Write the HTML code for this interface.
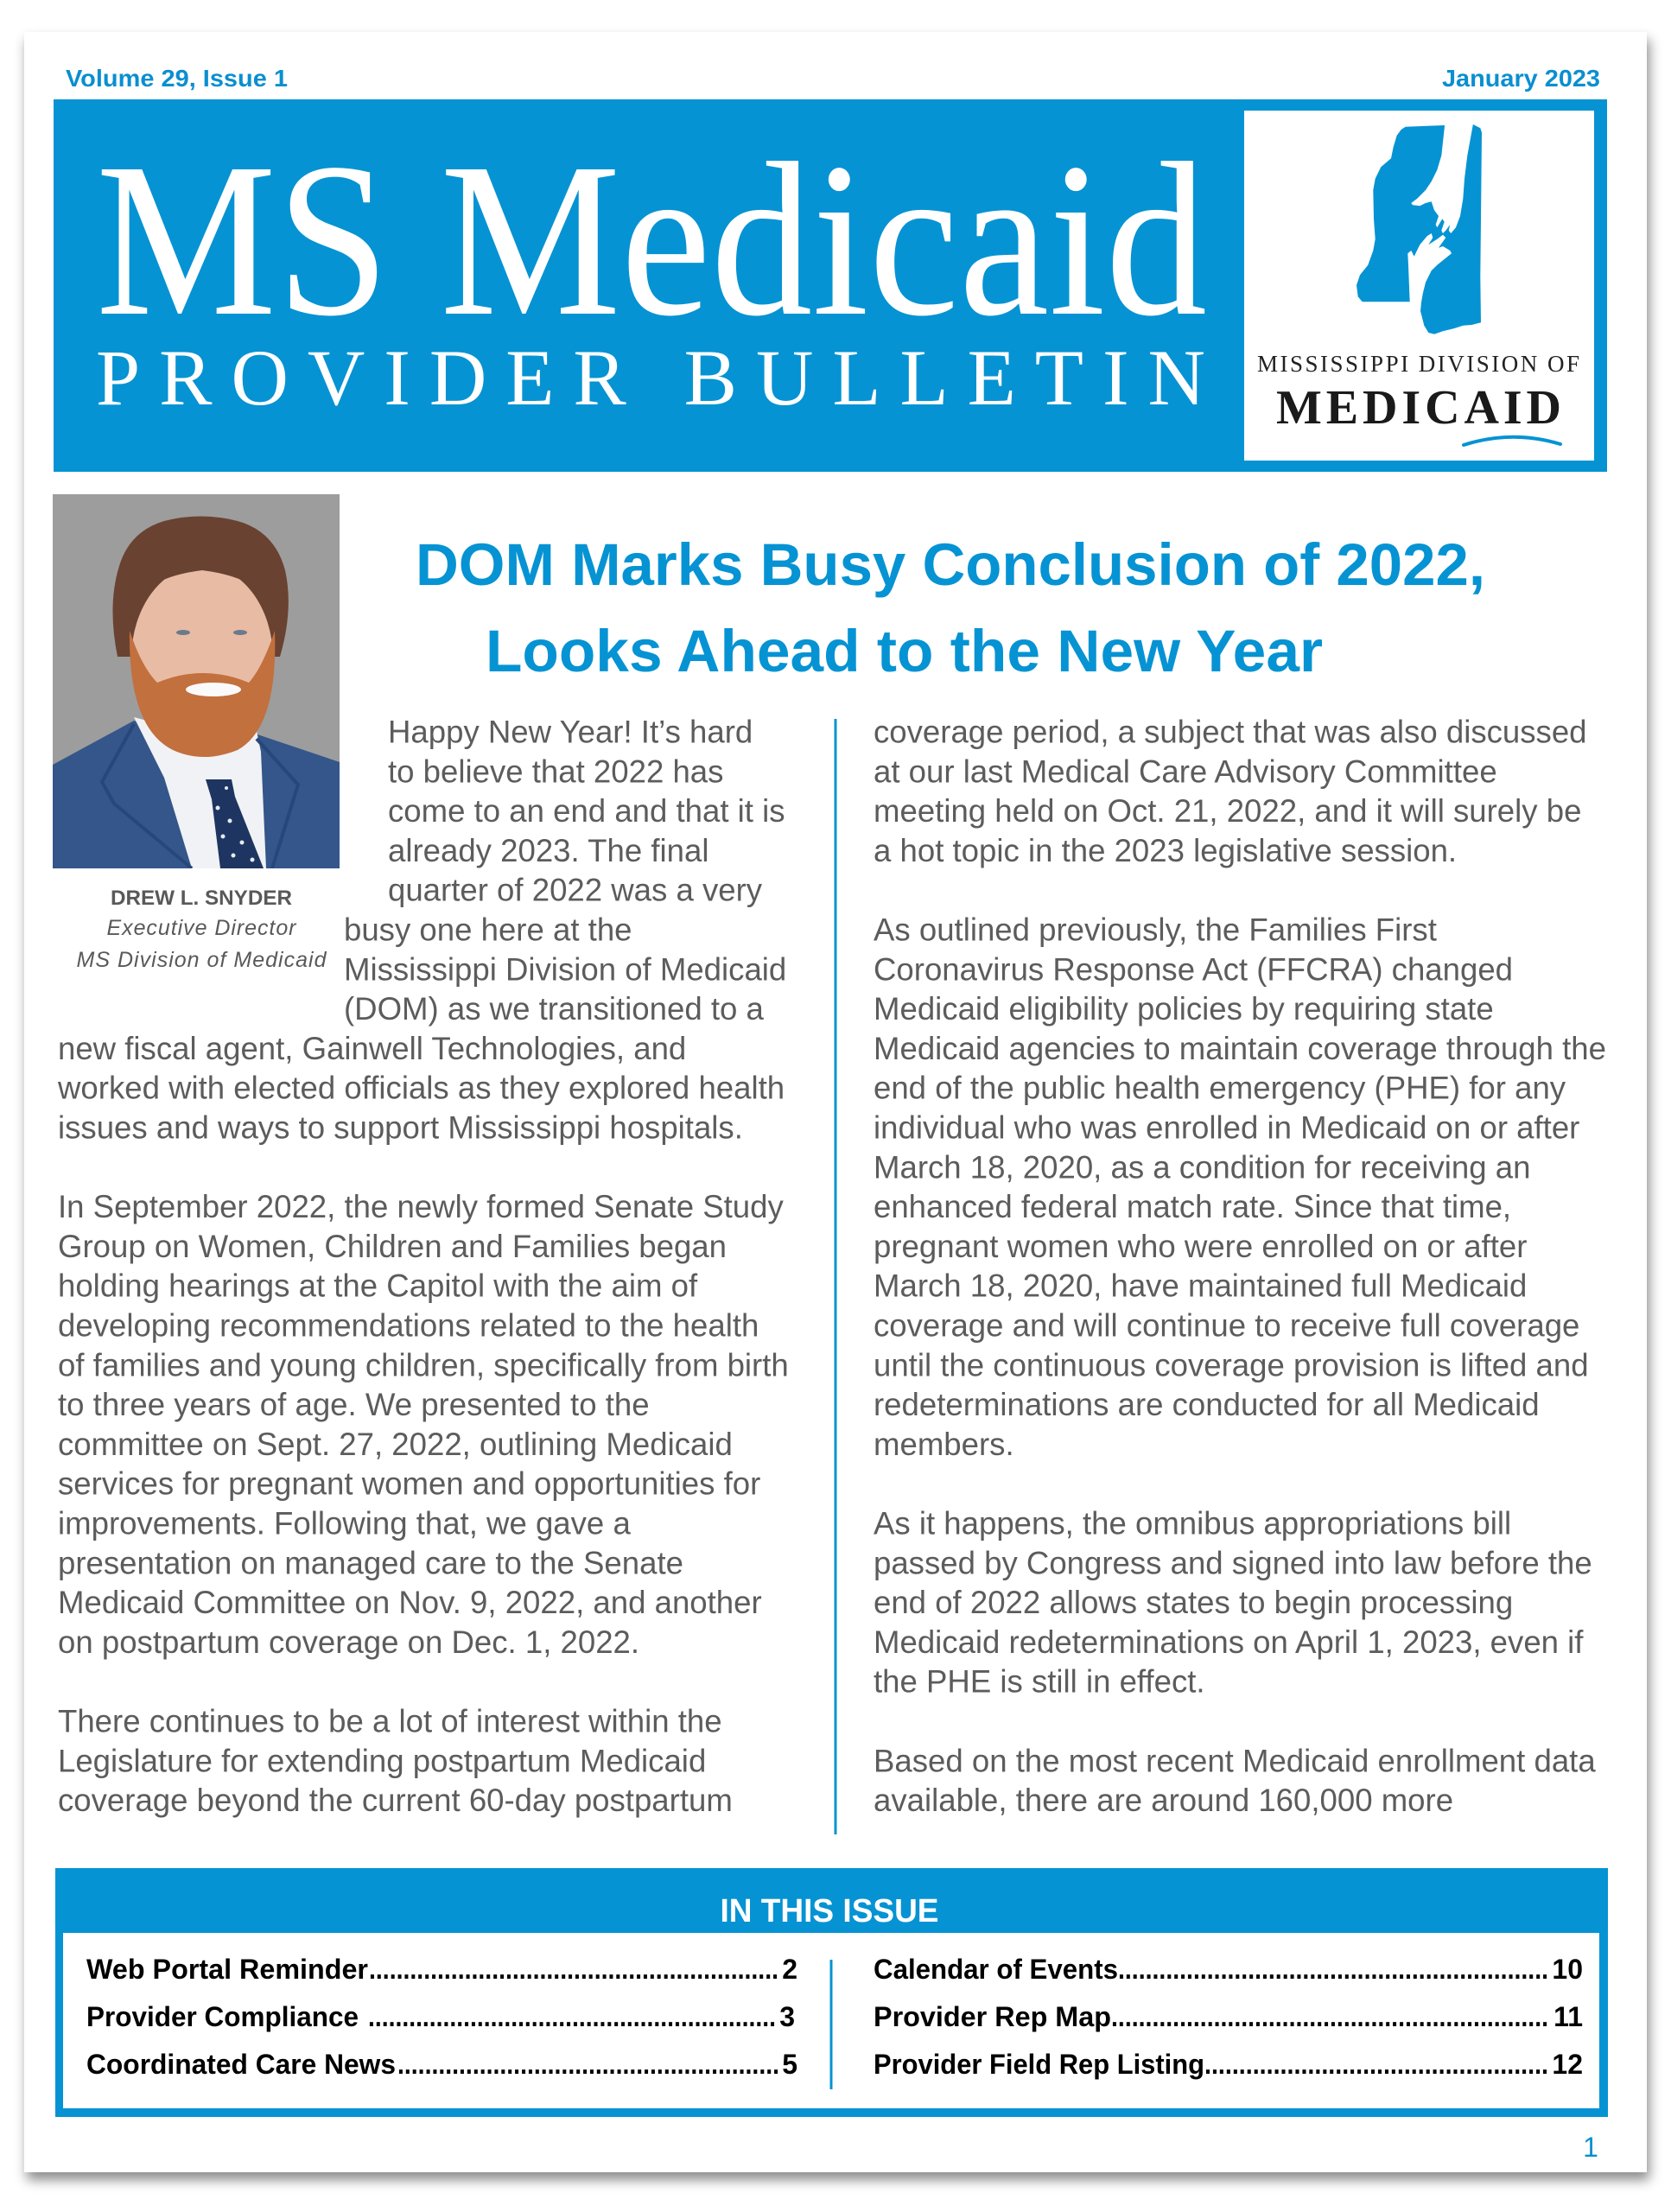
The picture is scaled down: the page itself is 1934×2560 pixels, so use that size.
<!DOCTYPE html>
<html><head><meta charset="utf-8">
<style>
html,body{margin:0;padding:0;background:#fff;width:1934px;height:2560px;overflow:hidden}
svg{display:block}
</style></head>
<body>
<svg width="1934" height="2560" viewBox="0 0 1934 2560" xmlns="http://www.w3.org/2000/svg">
<defs>
<filter id="sh" x="-5%" y="-5%" width="110%" height="110%"><feDropShadow dx="3" dy="9" stdDeviation="7" flood-color="#000" flood-opacity="0.45"/></filter>
<clipPath id="pc"><rect x="61" y="572" width="332" height="433"/></clipPath>
</defs>
<rect width="1934" height="2560" fill="#fff"/>
<rect x="28" y="37" width="1878" height="2477" fill="#fff" filter="url(#sh)"/>

<!-- header line -->
<g font-family="'Liberation Sans', Arial, sans-serif" font-weight="bold" font-size="28" fill="#0a8fd0">
<text x="76" y="100" textLength="257" lengthAdjust="spacingAndGlyphs">Volume 29, Issue 1</text>
<text x="1852" y="100" text-anchor="end" textLength="183" lengthAdjust="spacingAndGlyphs">January 2023</text>
</g>

<!-- banner -->
<rect x="62" y="115" width="1798" height="431" fill="#0693d3"/>
<text x="111" y="363" font-family="'Liberation Serif', serif" font-size="255" fill="#fff" textLength="1286" lengthAdjust="spacingAndGlyphs">MS Medicaid</text>
<text x="111" y="468" font-family="'Liberation Serif', serif" font-size="92" fill="#fff" textLength="1284" lengthAdjust="spacing">PROVIDER BULLETIN</text>

<!-- logo -->
<rect x="1440" y="128" width="405" height="405" fill="#fff"/>
<path fill="#0693d3" d="M1626.7,146.7 L1672.3,145 L1705,144 L1713.3,148.3 L1715,153.3 L1714,253.3 L1713.3,320 L1714,373.3 L1703.3,376 L1693.3,376.7 L1683.3,380 L1670,383.3 L1660,386.7 L1653.3,385 L1648.3,376.7 L1644,360 L1645,350 L1630,349.3 L1576.7,349.3 L1571.7,343.3 L1570,330 L1574,318.3 L1583.3,306.7 L1589.3,290 L1591.7,276.7 L1590,253.3 L1589.3,220 L1591.7,206.7 L1598.3,193.3 L1610,183.3 L1612.7,170 L1616.7,156.7 L1621.7,150 Z"/>
<path fill="#fff" d="M1672.3,143.3 L1705,143.3 L1698.3,180 L1695,206.7 L1693.3,230 L1690,250 L1685,263.3 L1679.3,270 L1676.7,266.7 L1678.3,260 L1673.3,266.7 L1670,270 L1668.3,266.7 L1671.7,256.7 L1669.3,253.3 L1663.3,263.3 L1661.7,260 L1665,250 L1660,243.3 L1656.7,233.3 L1650,235 L1643.3,238.3 L1635,237.3 L1633.3,235 L1640,230 L1650,220 L1656.7,210 L1663.3,196.7 L1668.3,180 Z"/>
<path fill="#fff" d="M1631.7,350 L1630,306.7 L1629.3,293.3 L1633.3,290 L1636.7,296.7 L1643.3,283.3 L1651.7,273.3 L1656.7,270 L1658.3,275 L1653.3,283.3 L1663.3,276.7 L1670,271.7 L1673.3,275 L1665,286.7 L1670,285 L1678.3,290 L1680,293.3 L1663.3,306.7 L1656.7,313.3 L1650,326.7 L1646.7,340 L1645,350 Z"/>
<text x="1455" y="430" font-family="'Liberation Serif', serif" font-size="27" fill="#222" textLength="373" lengthAdjust="spacing">MISSISSIPPI DIVISION OF</text>
<text x="1477" y="490" font-family="'Liberation Serif', serif" font-weight="bold" font-size="56" fill="#1a1a1a" textLength="330" lengthAdjust="spacing">MEDICAID</text>
<path d="M1694,515 Q1750,497 1806,514" stroke="#0693d3" stroke-width="4" fill="none" stroke-linecap="round"/>

<!-- photo -->
<g clip-path="url(#pc)">
<rect x="61" y="572" width="332" height="433" fill="#9d9d9d"/>
<path fill="#34568a" d="M61,885 L155,834 L215,856 L298,850 L393,882 L393,1005 L61,1005 Z"/>
<path fill="#f1f2f5" d="M155,830 L200,842 L245,850 L297,846 L302,870 L308,1005 L222,1005 L190,900 Z"/>
<path fill="#1f3561" d="M238,902 L268,902 L272,922 L305,1005 L255,1005 L245,925 Z"/>
<g fill="#e6ebf2"><circle cx="252" cy="935" r="2.5"/><circle cx="266" cy="950" r="2.5"/><circle cx="258" cy="968" r="2.5"/><circle cx="280" cy="975" r="2.5"/><circle cx="270" cy="990" r="2.5"/><circle cx="292" cy="995" r="2.5"/><circle cx="262" cy="912" r="2"/></g>
<polyline points="155,838 118,905 132,930 222,1005" fill="none" stroke="#27477a" stroke-width="4"/>
<polyline points="297,855 345,908 315,1005" fill="none" stroke="#27477a" stroke-width="4"/>
<path fill="#6a4231" d="M136,760 Q124,700 138,655 Q150,615 190,603 Q232,592 275,603 Q318,615 330,660 Q340,705 324,760 Z"/>
<ellipse cx="234" cy="762" rx="82" ry="108" fill="#e8bba4"/>
<path fill="#6a4231" d="M152,705 Q160,660 200,650 Q235,642 270,650 Q310,660 318,705 Q300,668 234,660 Q168,668 152,705 Z"/>
<path fill="#c2703e" d="M150,730 Q148,842 200,868 Q235,884 275,868 Q322,842 318,730 Q304,772 288,790 Q235,768 182,790 Q164,772 150,730 Z"/>
<ellipse cx="247" cy="798" rx="32" ry="8" fill="#fafafa"/>
<ellipse cx="212" cy="732" rx="8" ry="3" fill="#6a7a8a"/>
<ellipse cx="278" cy="732" rx="8" ry="3" fill="#6a7a8a"/>
</g>

<!-- caption -->
<g font-family="'Liberation Sans', Arial, sans-serif" fill="#595959" text-anchor="middle">
<text x="233" y="1047" font-weight="bold" font-size="24" textLength="210" lengthAdjust="spacingAndGlyphs">DREW L. SNYDER</text>
<text x="233" y="1082" font-style="italic" font-size="25" textLength="219" lengthAdjust="spacing">Executive Director</text>
<text x="233" y="1119" font-style="italic" font-size="25" textLength="289" lengthAdjust="spacing">MS Division of Medicaid</text>
</g>

<!-- title -->
<g font-family="'Liberation Sans', Arial, sans-serif" font-weight="bold" font-size="69" fill="#0693d3">
<text x="481" y="677" textLength="1238" lengthAdjust="spacingAndGlyphs">DOM Marks Busy Conclusion of 2022,</text>
<text x="562" y="777" textLength="969" lengthAdjust="spacingAndGlyphs">Looks Ahead to the New Year</text>
</g>

<!-- column divider -->
<line x1="967" y1="832" x2="967" y2="2123" stroke="#0693d3" stroke-width="3"/>

<!-- body text -->
<g font-family="'Liberation Sans', Arial, sans-serif" font-size="36.6" fill="#5c5c5c">
<text x="449" y="859.5">Happy New Year! It’s hard</text>
<text x="449" y="905.3">to believe that 2022 has</text>
<text x="449" y="951.1">come to an end and that it is</text>
<text x="449" y="996.9">already 2023. The final</text>
<text x="449" y="1042.7">quarter of 2022 was a very</text>
<text x="398" y="1088.5">busy one here at the</text>
<text x="398" y="1134.3">Mississippi Division of Medicaid</text>
<text x="398" y="1180.1">(DOM) as we transitioned to a</text>
<text x="67" y="1225.9">new fiscal agent, Gainwell Technologies, and</text>
<text x="67" y="1271.7">worked with elected officials as they explored health</text>
<text x="67" y="1317.5">issues and ways to support Mississippi hospitals.</text>
<text x="67" y="1409.1">In September 2022, the newly formed Senate Study</text>
<text x="67" y="1454.9">Group on Women, Children and Families began</text>
<text x="67" y="1500.7">holding hearings at the Capitol with the aim of</text>
<text x="67" y="1546.5">developing recommendations related to the health</text>
<text x="67" y="1592.3">of families and young children, specifically from birth</text>
<text x="67" y="1638.1">to three years of age. We presented to the</text>
<text x="67" y="1683.9">committee on Sept. 27, 2022, outlining Medicaid</text>
<text x="67" y="1729.7">services for pregnant women and opportunities for</text>
<text x="67" y="1775.5">improvements. Following that, we gave a</text>
<text x="67" y="1821.3">presentation on managed care to the Senate</text>
<text x="67" y="1867.1">Medicaid Committee on Nov. 9, 2022, and another</text>
<text x="67" y="1912.9">on postpartum coverage on Dec. 1, 2022.</text>
<text x="67" y="2004.5">There continues to be a lot of interest within the</text>
<text x="67" y="2050.3">Legislature for extending postpartum Medicaid</text>
<text x="67" y="2096.1">coverage beyond the current 60-day postpartum</text>

<text x="1011" y="859.5">coverage period, a subject that was also discussed</text>
<text x="1011" y="905.3">at our last Medical Care Advisory Committee</text>
<text x="1011" y="951.1">meeting held on Oct. 21, 2022, and it will surely be</text>
<text x="1011" y="996.9">a hot topic in the 2023 legislative session.</text>
<text x="1011" y="1088.5">As outlined previously, the Families First</text>
<text x="1011" y="1134.3">Coronavirus Response Act (FFCRA) changed</text>
<text x="1011" y="1180.1">Medicaid eligibility policies by requiring state</text>
<text x="1011" y="1225.9">Medicaid agencies to maintain coverage through the</text>
<text x="1011" y="1271.7">end of the public health emergency (PHE) for any</text>
<text x="1011" y="1317.5">individual who was enrolled in Medicaid on or after</text>
<text x="1011" y="1363.3">March 18, 2020, as a condition for receiving an</text>
<text x="1011" y="1409.1">enhanced federal match rate. Since that time,</text>
<text x="1011" y="1454.9">pregnant women who were enrolled on or after</text>
<text x="1011" y="1500.7">March 18, 2020, have maintained full Medicaid</text>
<text x="1011" y="1546.5">coverage and will continue to receive full coverage</text>
<text x="1011" y="1592.3">until the continuous coverage provision is lifted and</text>
<text x="1011" y="1638.1">redeterminations are conducted for all Medicaid</text>
<text x="1011" y="1683.9">members.</text>
<text x="1011" y="1775.5">As it happens, the omnibus appropriations bill</text>
<text x="1011" y="1821.3">passed by Congress and signed into law before the</text>
<text x="1011" y="1867.1">end of 2022 allows states to begin processing</text>
<text x="1011" y="1912.9">Medicaid redeterminations on April 1, 2023, even if</text>
<text x="1011" y="1958.7">the PHE is still in effect.</text>
<text x="1011" y="2050.3">Based on the most recent Medicaid enrollment data</text>
<text x="1011" y="2096.1">available, there are around 160,000 more</text>
</g>

<!-- in this issue box -->
<rect x="64" y="2162" width="1797" height="288" fill="#0693d3"/>
<rect x="73" y="2237" width="1778" height="203" fill="#fff"/>
<text x="960" y="2224" text-anchor="middle" font-family="'Liberation Sans', Arial, sans-serif" font-weight="bold" font-size="38" fill="#fff" textLength="253" lengthAdjust="spacingAndGlyphs">IN THIS ISSUE</text>
<line x1="962" y1="2268" x2="962" y2="2418" stroke="#0693d3" stroke-width="3"/>
<g font-family="'Liberation Sans', Arial, sans-serif" font-weight="bold" font-size="32" fill="#000">
<text x="100" y="2290" textLength="326" lengthAdjust="spacingAndGlyphs">Web Portal Reminder</text>
<text x="427" y="2290" textLength="474" lengthAdjust="spacingAndGlyphs">............................................................</text>
<text x="923" y="2290" text-anchor="end">2</text>
<text x="100" y="2345" textLength="315" lengthAdjust="spacingAndGlyphs">Provider Compliance</text>
<text x="426" y="2345" textLength="472" lengthAdjust="spacingAndGlyphs">............................................................</text>
<text x="920" y="2345" text-anchor="end">3</text>
<text x="100" y="2400" textLength="358" lengthAdjust="spacingAndGlyphs">Coordinated Care News</text>
<text x="460" y="2400" textLength="442" lengthAdjust="spacingAndGlyphs">........................................................</text>
<text x="923" y="2400" text-anchor="end">5</text>

<text x="1011" y="2290" textLength="283" lengthAdjust="spacingAndGlyphs">Calendar of Events</text>
<text x="1294" y="2290" textLength="498" lengthAdjust="spacingAndGlyphs">...............................................................</text>
<text x="1832" y="2290" text-anchor="end">10</text>
<text x="1011" y="2345" textLength="275" lengthAdjust="spacingAndGlyphs">Provider Rep Map</text>
<text x="1286" y="2345" textLength="506" lengthAdjust="spacingAndGlyphs">................................................................</text>
<text x="1832" y="2345" text-anchor="end">11</text>
<text x="1011" y="2400" textLength="383" lengthAdjust="spacingAndGlyphs">Provider Field Rep Listing</text>
<text x="1394" y="2400" textLength="398" lengthAdjust="spacingAndGlyphs">..................................................</text>
<text x="1832" y="2400" text-anchor="end">12</text>
</g>

<text x="1841" y="2496" text-anchor="middle" font-family="'Liberation Sans', Arial, sans-serif" font-size="32" fill="#0a8fd0">1</text>
</svg>
</body></html>
